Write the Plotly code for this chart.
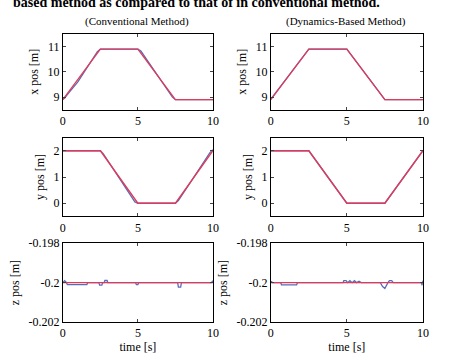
import plotly.graph_objects as go

# ---- data ----
t_ref = [0, 2.5, 5, 7.5, 10]
x_ref = [8.9, 10.9, 10.9, 8.9, 8.9]
y_ref = [2.0, 2.0, 0.0, 0.0, 2.0]
z_ref_t = [0, 10]
z_ref = [-0.2, -0.2]

# conventional (actual, blue)
t_xc = [0, 0.1, 0.3, 1.0, 2.3, 2.5, 2.7, 5.0, 5.2, 7.3, 7.5, 7.7, 10]
x_conv = [8.92, 8.95, 9.1, 9.6, 10.8, 10.9, 10.9, 10.9, 10.82, 9.0, 8.9, 8.9, 8.9]
t_yc = [0, 2.5, 2.7, 4.8, 5.0, 7.5, 7.7, 9.8, 10]
y_conv = [2.0, 2.0, 1.88, 0.05, 0.0, 0.0, 0.1, 1.93, 2.04]
t_zc = [0, 0.08, 0.12, 0.25, 0.3, 1.6, 1.65, 2.4, 2.45, 2.6, 2.65, 2.75, 2.8, 2.95, 3.0,
        4.85, 4.9, 5.0, 5.05, 7.65, 7.7, 7.85, 7.9, 9.9, 9.95, 10]
z_conv = [-0.2, -0.1999, -0.1999, -0.2, -0.2001, -0.2001, -0.2, -0.2, -0.20013, -0.20013, -0.2,
          -0.2, -0.19989, -0.19989, -0.2, -0.2, -0.2001, -0.2001, -0.2, -0.2, -0.20023,
          -0.20023, -0.2, -0.2, -0.1999, -0.1999]

# dynamics-based (actual, blue)
t_xd = [0, 2.5, 5, 7.5, 10]
x_dyn = [8.92, 10.9, 10.9, 8.9, 8.9]
t_yd = [0, 2.5, 5, 7.5, 10]
y_dyn = [2.0, 2.0, 0.0, 0.0, 2.0]
t_zd = [0, 0.05, 0.1, 0.65, 0.7, 1.7, 1.75, 4.75, 4.8, 4.95, 5.05, 5.2, 5.35, 5.5, 5.65, 5.8,
        5.95, 6.1, 7.2, 7.35, 7.5, 7.7, 7.8, 7.95, 8.05, 9.9, 9.95, 10]
z_dyn = [-0.19995, -0.19995, -0.2, -0.2, -0.20011, -0.20011, -0.2, -0.2, -0.1999, -0.1999,
         -0.2, -0.1999, -0.2, -0.1999, -0.2, -0.19993, -0.2, -0.2, -0.2, -0.2002, -0.2003,
         -0.2, -0.1999, -0.1999, -0.2, -0.2, -0.20013, -0.1999]

col_titles = ["(Conventional Method)", "(Dynamics-Based Method)"]
ylabels = ["x pos [m]", "y pos [m]", "z pos [m]"]
x_ticks = [0, 5, 10]
yranges = [[8.5, 11.5], [-0.5, 2.5], [-0.202, -0.198]]
yticks = [[9, 10, 11], [0, 1, 2], [-0.202, -0.2, -0.198]]
yticktext = [["9", "10", "11"], ["0", "1", "2"], ["-0.202", "-0.2", "-0.198"]]
header = "based method as compared to that of in conventional method."

BLUE = "#5a6cb8"
RED = "#e03a58"
FONT = "Liberation Serif"

W, H = 474, 354
xdom = [[61 / W, 214 / W], [273 / W, 428 / W]]
ydom = [[1 - 107 / H, 1 - 28 / H], [1 - 218 / H, 1 - 136 / H], [1 - 328 / H, 1 - 246 / H]]

fig = go.Figure()
actual = [[(t_xc, x_conv), (t_xd, x_dyn)],
          [(t_yc, y_conv), (t_yd, y_dyn)],
          [(t_zc, z_conv), (t_zd, z_dyn)]]
refs = [(t_ref, x_ref), (t_ref, y_ref), (z_ref_t, z_ref)]

layout = {}
idx = 0
for r in range(3):
    for c in range(2):
        idx += 1
        xa = "x" if idx == 1 else f"x{idx}"
        ya = "y" if idx == 1 else f"y{idx}"
        bt, by = actual[r][c]
        fig.add_trace(go.Scatter(x=bt, y=by, mode="lines", line=dict(color=BLUE, width=1.3),
                                 xaxis=xa, yaxis=ya, showlegend=False))
        rt, ry = refs[r]
        fig.add_trace(go.Scatter(x=rt, y=ry, mode="lines", line=dict(color=RED, width=1.3),
                                 xaxis=xa, yaxis=ya, showlegend=False))
        kx = "xaxis" if idx == 1 else f"xaxis{idx}"
        ky = "yaxis" if idx == 1 else f"yaxis{idx}"
        layout[kx] = dict(domain=xdom[c], anchor=ya, range=[0, 10], tickvals=x_ticks,
                          ticks="inside", ticklen=3, showline=True, linecolor="black",
                          linewidth=1, mirror="ticks", showgrid=False, zeroline=False,
                          tickfont=dict(family=FONT, size=12, color="black"),
                          title=dict(text="time [s]" if r == 2 else "", standoff=2,
                                     font=dict(family=FONT, size=12, color="black")))
        layout[ky] = dict(domain=ydom[r], anchor=xa, range=yranges[r], tickvals=yticks[r],
                          ticktext=yticktext[r], ticks="inside", ticklen=3, showline=True,
                          linecolor="black", linewidth=1, mirror="ticks", showgrid=False,
                          zeroline=False, tickfont=dict(family=FONT, size=12, color="black"),
                          title=dict(text=ylabels[r], standoff=6,
                                     font=dict(family=FONT, size=12, color="black")))

annotations = [
    dict(text=col_titles[0], x=137 / W, y=1 - 15 / H, xref="paper", yref="paper",
         xanchor="center", yanchor="middle", showarrow=False,
         font=dict(family=FONT, size=11, color="black")),
    dict(text=col_titles[1], x=350 / W, y=1 - 15 / H, xref="paper", yref="paper",
         xanchor="center", yanchor="middle", showarrow=False,
         font=dict(family=FONT, size=11, color="black")),
    dict(text="<b>" + header + "</b>", x=197 / W, y=1 - 5 / H, xref="paper", yref="paper",
         xanchor="center", yanchor="bottom", showarrow=False,
         font=dict(family=FONT, size=14, color="black")),
]

fig.update_layout(width=W, height=H, margin=dict(l=0, r=0, t=0, b=0),
                  plot_bgcolor="white", paper_bgcolor="white",
                  annotations=annotations, **layout)
fig.write_html("out.html")
